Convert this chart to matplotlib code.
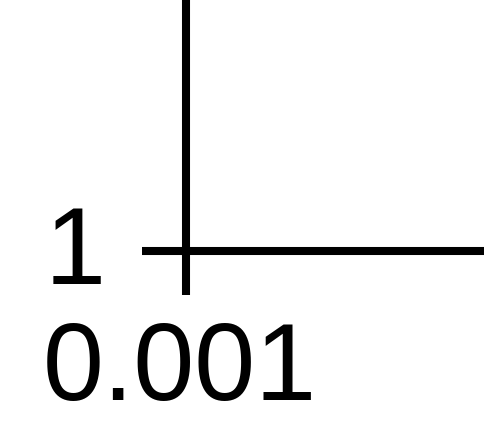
import matplotlib
matplotlib.use('Agg')
import matplotlib.pyplot as plt
from matplotlib.transforms import ScaledTranslation

# visible tick values of the log-log axes
x_ticks = [0.001]
x_labels = ['0.001']
y_ticks = [1]
y_labels = ['1']

fig = plt.figure(figsize=(4.84, 4.39), dpi=100)
ax = fig.add_axes([186 / 484, 1 - 252 / 439, 1 - 186 / 484, 252 / 439])
ax.set_xscale('log')
ax.set_yscale('log')
ax.set_xlim(0.001, 0.008)
ax.set_ylim(1, 8)

for s in ['top', 'right']:
    ax.spines[s].set_visible(False)
for s in ['left', 'bottom']:
    ax.spines[s].set_linewidth(5.8)
    ax.spines[s].set_color('black')

ax.set_xticks(x_ticks)
ax.set_xticklabels(x_labels)
ax.set_yticks(y_ticks)
ax.set_yticklabels(y_labels)
ax.minorticks_off()
ax.tick_params(length=32, width=5.8, color='black', labelsize=79, pad=18)
ax.tick_params(axis='y', pad=26)
for t in ax.get_xticklabels() + ax.get_yticklabels():
    t.set_fontfamily('Liberation Sans')
# small nudges so the labels sit where the reference has them
for t in ax.get_yticklabels():
    t.set_transform(t.get_transform() + ScaledTranslation(0, 8 / 100, fig.dpi_scale_trans))
for t in ax.get_xticklabels():
    t.set_transform(t.get_transform() + ScaledTranslation(-6 / 100, 0, fig.dpi_scale_trans))

fig.savefig('out.png', dpi=100)
